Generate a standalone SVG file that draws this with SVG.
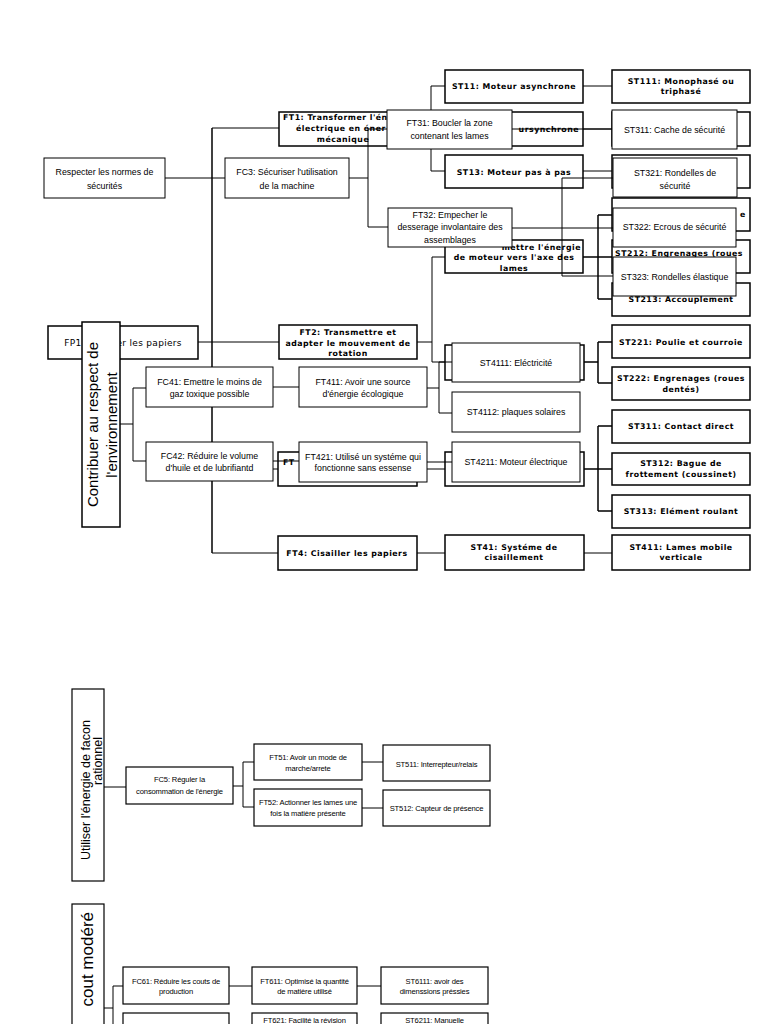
<svg xmlns="http://www.w3.org/2000/svg" width="768" height="1024" viewBox="0 0 768 1024">
<style>
  .bg { fill: #ffffff; }
  .ob { fill: #ffffff; stroke: #000; stroke-width: 1.5; }
  .nb { fill: #ffffff; stroke: #000; stroke-width: 1; }
  .sb { fill: #ffffff; stroke: #000; stroke-width: 1.2; }
  .ln { fill: none; stroke: #000; stroke-width: 1; }
  .lt { fill: none; stroke: #000; stroke-width: 1.5; }
  .b { font-family: "DejaVu Sans", "Liberation Sans", sans-serif; font-weight: bold; font-size: 7.8px; letter-spacing: 0.5px; text-anchor: middle; fill: #000; }
  .r { font-family: "Liberation Sans", Arial, sans-serif; font-size: 8.8px; text-anchor: middle; fill: #000; }
  .s { font-family: "Liberation Sans", Arial, sans-serif; font-size: 7.6px; text-anchor: middle; fill: #000; letter-spacing: -0.15px; }
  .fp { font-family: "DejaVu Sans", sans-serif; font-size: 9px; letter-spacing: 0.3px; text-anchor: middle; fill: #000; }
  .v { font-family: "Liberation Sans", Arial, sans-serif; text-anchor: middle; fill: #000; }
</style>
<rect class="bg" x="0" y="0" width="768" height="1024"/>

<!-- connectors of the original tree -->
<g id="connectors-old">
  <path class="lt" d="M212 128 V553"/>
  <path class="ln" d="M212 128 H279"/>
  <path class="ln" d="M198 342 H279"/>
  <path class="ln" d="M212 469 H278"/>
  <path class="ln" d="M212 553 H278"/>
  <path class="ln" d="M417 128 H431 M431 86 V171 M431 86 H445 M431 129 H445 M431 171 H445"/>
  <path class="ln" d="M417 342 H432 M432 257 V362 M432 257 H445 M432 362 H445"/>
  <path class="ln" d="M583 86 H612 M583 129 H612 M583 171 H612"/>
  <path class="lt" d="M583 257 H598 M598 215 V299 M598 215 H612 M598 257 H612 M598 299 H612"/>
  <path class="lt" d="M584 362 H598 M598 342 V383 M598 342 H612 M598 383 H612"/>
  <path class="ln" d="M417 469 H445"/>
  <path class="lt" d="M584 469 H598 M598 426 V511 M598 426 H612 M598 469 H612 M598 511 H612"/>
  <path class="ln" d="M417 553 H445 M584 553 H612"/>
</g>

<!-- original tree boxes -->
<g id="ST11"><rect class="ob" x="445" y="70" width="138" height="33"/><text class="b" x="514" y="89">ST11: Moteur asynchrone</text></g>
<g id="ST12"><rect class="ob" x="445" y="112" width="138" height="34"/><text class="b" x="579" y="132" style="text-anchor:end">ursynchrone</text></g>
<g id="ST13"><rect class="ob" x="445" y="155" width="138" height="33"/><text class="b" x="514" y="175">ST13: Moteur pas à pas</text></g>
<g id="FT21"><rect class="ob" x="445" y="240" width="138" height="33"/>
  <text class="b" x="581" y="249.5" style="text-anchor:end">mettre l'énergie</text>
  <text class="b" x="514" y="260">de moteur vers l'axe des</text>
  <text class="b" x="514" y="270.5">lames</text></g>
<g id="FT22"><rect class="ob" x="445" y="345" width="139" height="35"/></g>
<g id="FT23"><rect class="ob" x="445" y="452" width="139" height="34"/></g>
<g id="ST111"><rect class="ob" x="612" y="70" width="138" height="33"/>
  <text class="b" x="681" y="84">ST111: Monophasé ou</text>
  <text class="b" x="681" y="94">triphasé</text></g>
<g id="ST121"><rect class="ob" x="612" y="112" width="138" height="34"/></g>
<g id="ST131"><rect class="ob" x="612" y="155" width="138" height="33"/></g>
<g id="ST211"><rect class="ob" x="612" y="198" width="138" height="33"/><text class="b" x="743" y="217">e</text></g>
<g id="ST212"><rect class="ob" x="612" y="240" width="138" height="33"/><text class="b" x="679" y="255.5">ST212: Engrenages (roues</text></g>
<g id="ST213"><rect class="ob" x="612" y="283" width="138" height="33"/><text class="b" x="681" y="301.5">ST213: Accouplement</text></g>
<g id="ST221"><rect class="ob" x="612" y="325" width="138" height="33"/><text class="b" x="681" y="345">ST221: Poulie et courroie</text></g>
<g id="ST222"><rect class="ob" x="612" y="367" width="138" height="33"/>
  <text class="b" x="681" y="381">ST222: Engrenages (roues</text>
  <text class="b" x="681" y="392">dentés)</text></g>
<g id="ST311b"><rect class="ob" x="612" y="410" width="138" height="33"/><text class="b" x="681" y="429">ST311: Contact direct</text></g>
<g id="ST312"><rect class="ob" x="612" y="453" width="138" height="32"/>
  <text class="b" x="681" y="466">ST312: Bague de</text>
  <text class="b" x="681" y="477">frottement (coussinet)</text></g>
<g id="ST313"><rect class="ob" x="612" y="495" width="138" height="33"/><text class="b" x="681" y="514">ST313: Elément roulant</text></g>
<g id="FT1"><rect class="ob" x="279" y="112" width="138" height="34"/>
  <text class="b" x="283" y="120" style="text-anchor:start">FT1: Transformer l'én</text>
  <text class="b" x="296" y="131" style="text-anchor:start">électrique en éner</text>
  <text class="b" x="343" y="142">mécanique</text></g>
<g id="FT2"><rect class="ob" x="279" y="325" width="138" height="34"/>
  <text class="b" x="348" y="335">FT2: Transmettre et</text>
  <text class="b" x="348" y="346">adapter le mouvement de</text>
  <text class="b" x="348" y="356">rotation</text></g>
<g id="FT3"><rect class="ob" x="278" y="452" width="139" height="34"/><text class="b" x="283" y="465" style="text-anchor:start">FT</text></g>
<g id="FT4"><rect class="ob" x="278" y="536" width="139" height="34"/><text class="b" x="347" y="556">FT4: Cisailler les papiers</text></g>
<g id="ST41"><rect class="ob" x="445" y="535" width="139" height="35"/>
  <text class="b" x="514" y="550">ST41: Systéme de</text>
  <text class="b" x="514" y="560">cisaillement</text></g>
<g id="ST411"><rect class="ob" x="612" y="535" width="138" height="35"/>
  <text class="b" x="681" y="550">ST411: Lames mobile</text>
  <text class="b" x="681" y="560">verticale</text></g>
<g id="FP1"><rect class="ob" x="48" y="326" width="150" height="33"/><text class="fp" x="123" y="346">FP1: Cisailler les papiers</text></g>

<!-- connectors of the overlaid tree -->
<g id="connectors-new">
  <path class="ln" d="M165 178 H225"/>
  <path class="ln" d="M349 178 H368 M368 129 V227 M368 129 H387 M368 227 H388"/>
  <path class="ln" d="M512 129 H612"/>
  <path class="ln" d="M512 228 H562 M562 178 V276 M562 178 H613 M562 228 H613 M562 276 H613"/>
  <path class="ln" d="M120 424 H133 M133 388 V461 M133 388 H146 M133 461 H146"/>
  <path class="ln" d="M273 387 H299"/>
  <path class="ln" d="M427 388 H439 M439 362 V413 M439 362 H452 M439 413 H452"/>
  <path class="ln" d="M273 461 H299"/>
  <path class="ln" d="M427 462 H452"/>
</g>

<!-- overlaid boxes -->
<g id="FT31"><rect class="nb" x="387" y="110" width="125" height="39"/>
  <text class="r" x="449.5" y="126">FT31: Boucler la zone</text>
  <text class="r" x="449.5" y="139">contenant les lames</text></g>
<g id="FT32"><rect class="nb" x="388" y="208" width="124" height="39"/>
  <text class="r" x="450" y="218">FT32: Empecher le</text>
  <text class="r" x="450" y="230">desserage involantaire des</text>
  <text class="r" x="450" y="242.5">assemblages</text></g>
<g id="FC3"><rect class="nb" x="225" y="158" width="124" height="40"/>
  <text class="r" x="287" y="175">FC3: Sécuriser l'utilisation</text>
  <text class="r" x="287" y="189">de la machine</text></g>
<g id="N-respecter"><rect class="nb" x="44" y="158" width="121" height="40"/>
  <text class="r" x="104.5" y="175">Respecter les normes de</text>
  <text class="r" x="104.5" y="189">sécurités</text></g>
<g id="ST311"><rect class="nb" x="612" y="110" width="125" height="39"/><text class="r" x="674.5" y="133">ST311: Cache de sécurité</text></g>
<g id="ST321"><rect class="nb" x="613" y="158" width="124" height="39"/>
  <text class="r" x="675" y="176">ST321: Rondelles de</text>
  <text class="r" x="675" y="189">sécurité</text></g>
<g id="ST322"><rect class="nb" x="613" y="208" width="123" height="39"/><text class="r" x="674.5" y="230">ST322: Ecrous de sécurité</text></g>
<g id="ST323"><rect class="nb" x="613" y="257" width="123" height="39"/><text class="r" x="674.5" y="280">ST323: Rondelles élastique</text></g>
<g id="FC41"><rect class="nb" x="146" y="367" width="127" height="40"/>
  <text class="r" x="209.5" y="385">FC41: Emettre le moins de</text>
  <text class="r" x="209.5" y="397">gaz toxique possible</text></g>
<g id="FC42"><rect class="nb" x="146" y="442" width="127" height="39"/>
  <text class="r" x="209.5" y="459">FC42: Réduire le volume</text>
  <text class="r" x="209.5" y="471">d'huile et de lubrifiantd</text></g>
<g id="FT411"><rect class="nb" x="299" y="367" width="128" height="40"/>
  <text class="r" x="363" y="385">FT411: Avoir une source</text>
  <text class="r" x="363" y="397">d'énergie écologique</text></g>
<g id="FT421"><rect class="nb" x="299" y="442" width="128" height="40"/>
  <text class="r" x="363" y="460">FT421: Utilisé un systéme qui</text>
  <text class="r" x="363" y="471">fonctionne sans essense</text></g>
<g id="ST4111"><rect class="nb" x="452" y="343" width="128" height="39"/><text class="r" x="516" y="366">ST4111: Eléctricité</text></g>
<g id="ST4112"><rect class="nb" x="452" y="392" width="128" height="40"/><text class="r" x="516" y="415">ST4112: plaques solaires</text></g>
<g id="ST4211"><rect class="nb" x="452" y="442" width="128" height="40"/><text class="r" x="516" y="465">ST4211: Moteur électrique</text></g>
<g id="N-environnement"><rect class="ob" x="82" y="322" width="38" height="205"/>
  <text class="v" font-size="15" x="98" y="424.5" transform="rotate(-90 98 424.5)">Contribuer au respect de</text>
  <text class="v" font-size="15" x="117" y="425" transform="rotate(-90 117 425)">l'environnement</text></g>

<!-- second section -->
<g id="connectors-energie">
  <path class="ln" d="M104 787 H126 M233 786 H243 M243 762 V807 M243 762 H254 M243 807 H254 M362 762 H383 M362 808 H383"/>
</g>
<g id="N-energie"><rect class="sb" x="72" y="689" width="32" height="192"/>
  <text class="v" font-size="12.5" x="89.5" y="790" transform="rotate(-90 89.5 790)">Utiliser l'énergie de facon</text>
  <text class="v" font-size="12.5" x="102" y="761" transform="rotate(-90 102 761)">rationnel</text></g>
<g id="FC5"><rect class="sb" x="126" y="767" width="107" height="37"/>
  <text class="s" x="179.5" y="782">FC5: Réguler la</text>
  <text class="s" x="179.5" y="794">consommation de l'énergie</text></g>
<g id="FT51"><rect class="sb" x="254" y="744" width="108" height="36"/>
  <text class="s" x="308" y="760">FT51: Avoir un mode de</text>
  <text class="s" x="308" y="771">marche/arrete</text></g>
<g id="FT52"><rect class="sb" x="254" y="789" width="108" height="37"/>
  <text class="s" x="308" y="805">FT52: Actionner les lames une</text>
  <text class="s" x="308" y="816">fois la matière présente</text></g>
<g id="ST511"><rect class="sb" x="383" y="745" width="107" height="36"/><text class="s" x="436.5" y="767">ST511: Interrepteur/relais</text></g>
<g id="ST512"><rect class="sb" x="383" y="790" width="107" height="36"/><text class="s" x="436.5" y="811">ST512: Capteur de présence</text></g>

<!-- third section -->
<g id="connectors-cout">
  <path class="ln" d="M104 1008 H113 M113 986 V1030 M113 986 H123 M113 1030 H123 M229 986 H252 M357 986 H381"/>
</g>
<g id="N-cout"><rect class="sb" x="72" y="904" width="32" height="130"/>
  <text class="v" font-size="17" x="93" y="912" style="text-anchor:end" transform="rotate(-90 93 912)">cout modéré</text></g>
<g id="FC61"><rect class="sb" x="123" y="967" width="106" height="37"/>
  <text class="s" x="176" y="984">FC61: Réduire les couts de</text>
  <text class="s" x="176" y="994">production</text></g>
<g id="FC62"><rect class="sb" x="123" y="1013" width="106" height="30"/></g>
<g id="FT611"><rect class="sb" x="252" y="967" width="105" height="37"/>
  <text class="s" x="304.5" y="984">FT611: Optimisé la quantité</text>
  <text class="s" x="304.5" y="994">de matière utilisé</text></g>
<g id="FT621"><rect class="sb" x="252" y="1013" width="105" height="30"/><text class="s" x="304.5" y="1023">FT621: Facilité la révision</text></g>
<g id="ST6111"><rect class="sb" x="381" y="967" width="107" height="37"/>
  <text class="s" x="434.5" y="984">ST6111: avoir des</text>
  <text class="s" x="434.5" y="994">dimenssions préssies</text></g>
<g id="ST6211"><rect class="sb" x="381" y="1013" width="107" height="30"/><text class="s" x="434.5" y="1023">ST6211: Manuelle</text></g>
</svg>
